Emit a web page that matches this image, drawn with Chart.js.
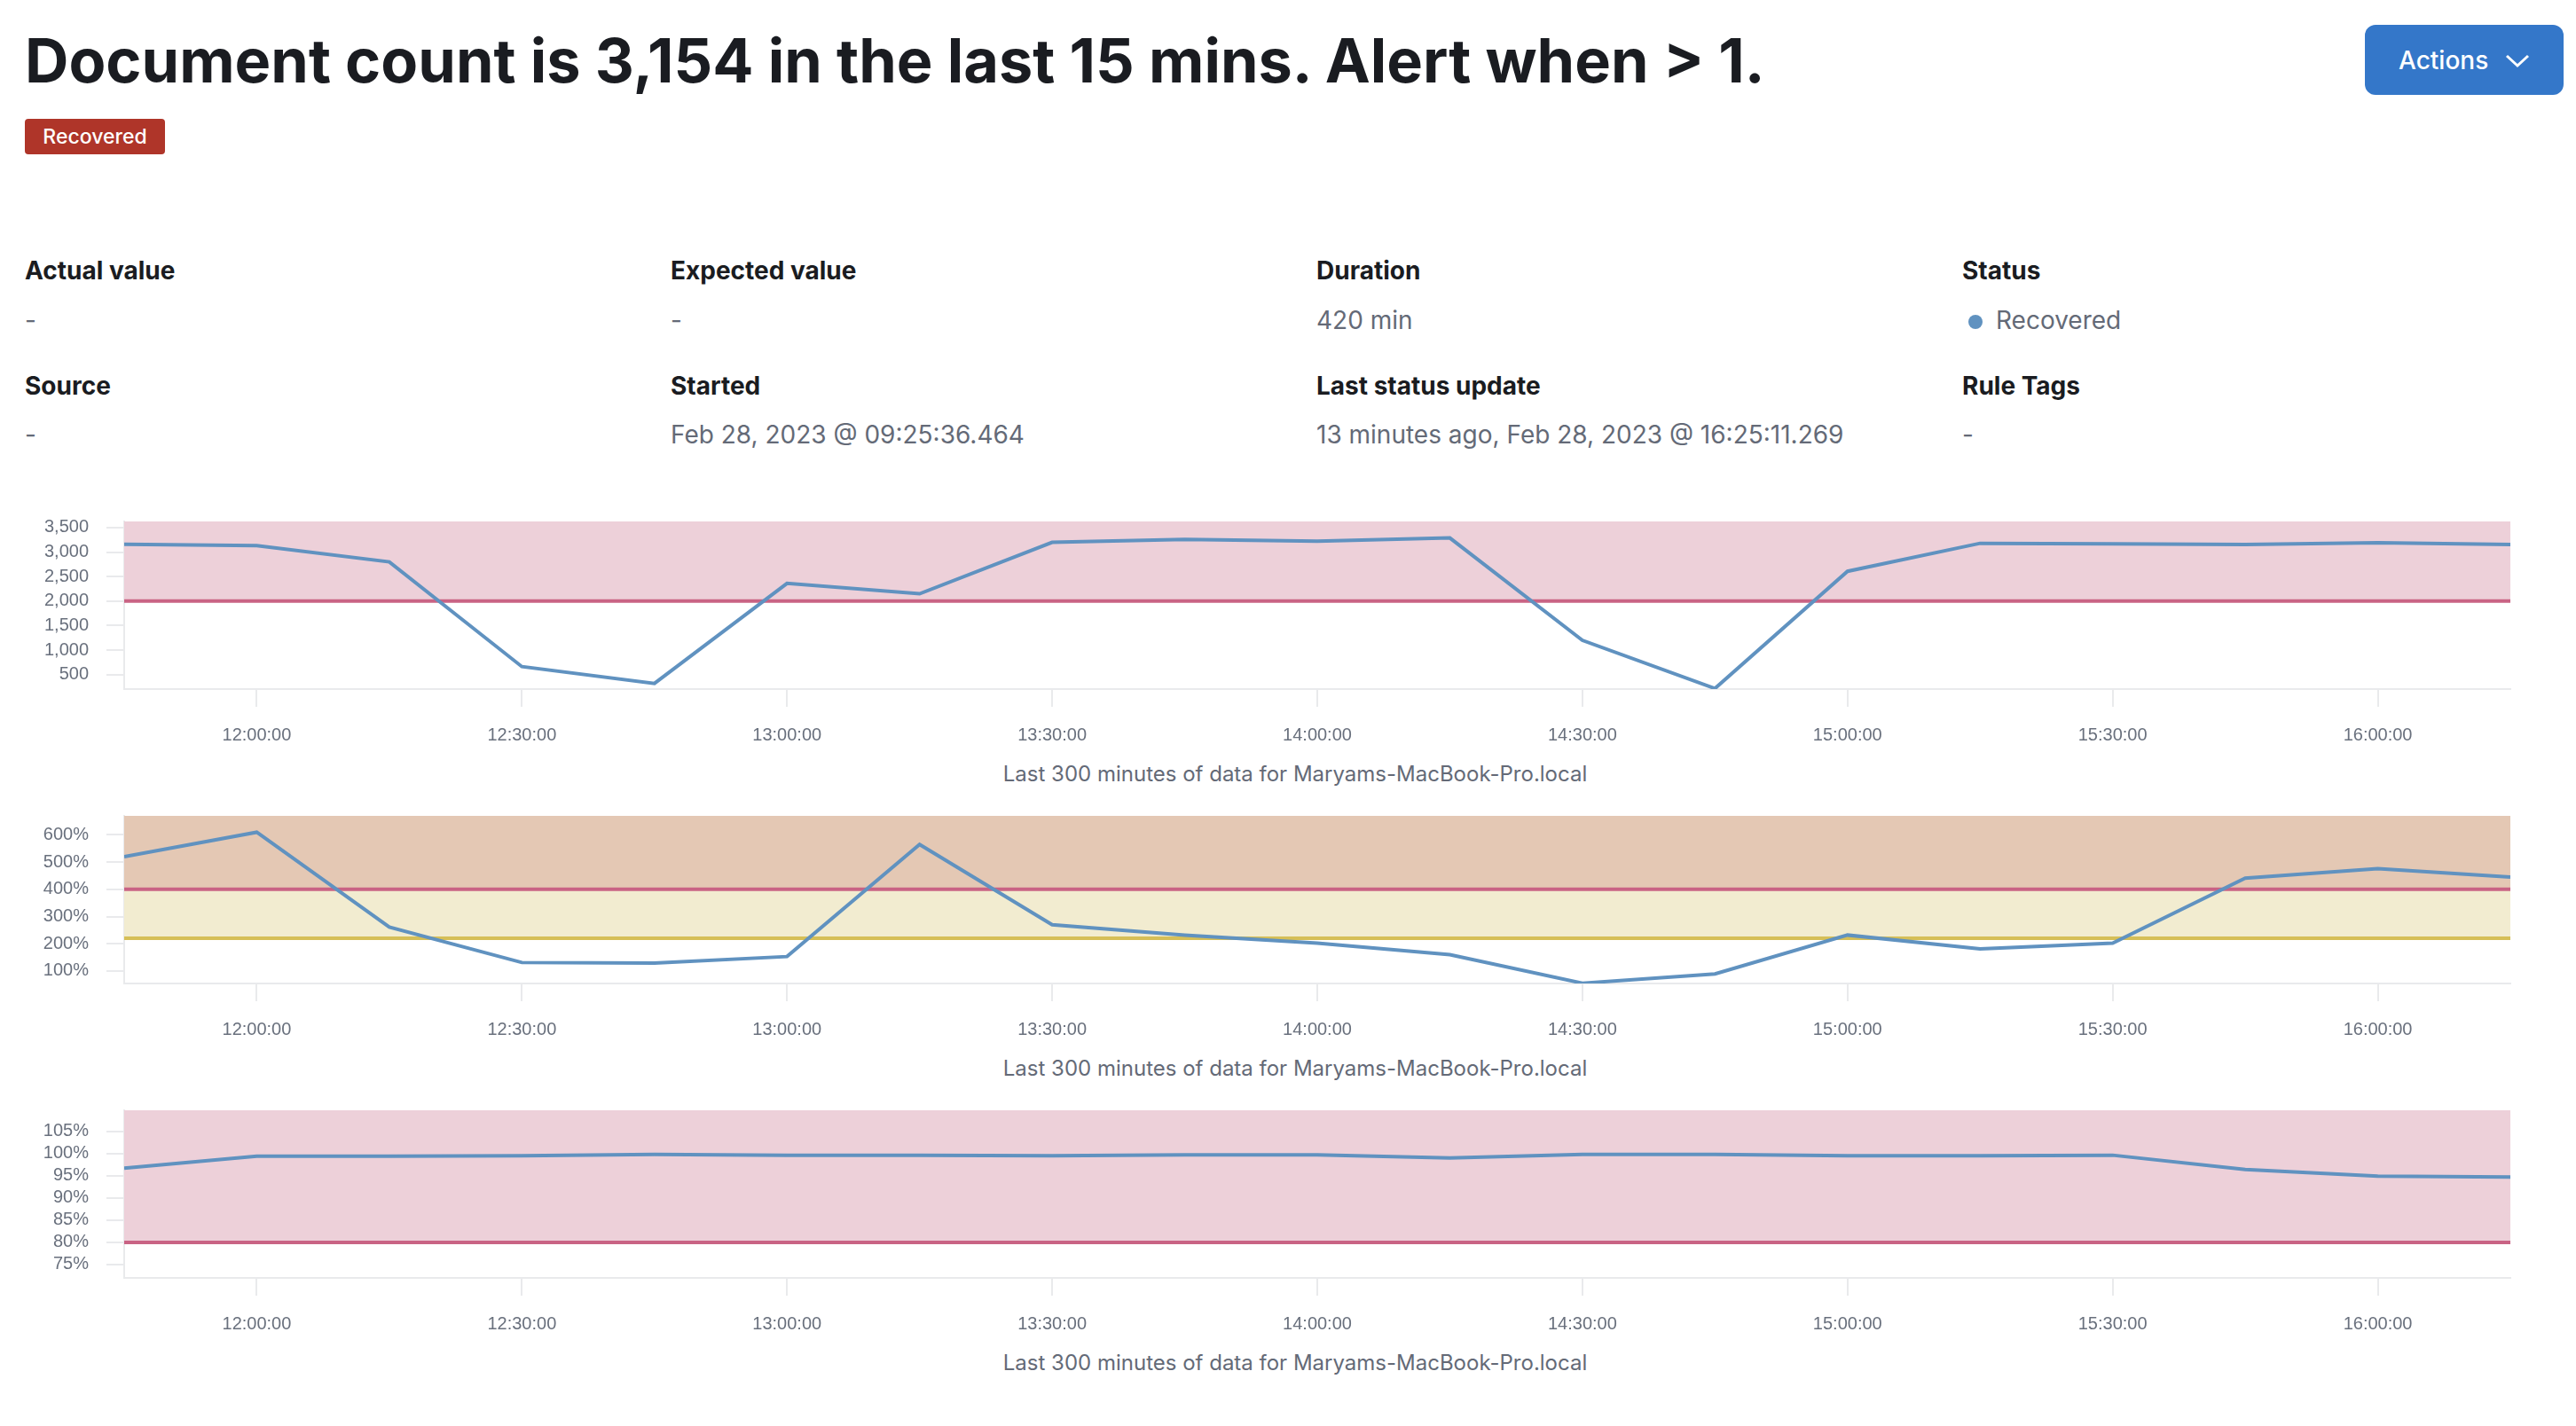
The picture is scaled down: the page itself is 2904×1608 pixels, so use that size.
<!DOCTYPE html>
<html>
<head>
<meta charset="utf-8">
<script src="https://cdn.jsdelivr.net/npm/chart.js@4.4.1/dist/chart.umd.min.js"></script>
<style>
  body { margin: 0; width: 2904px; height: 1608px; background: #fff; position: relative; overflow: hidden; font-family: Inter, "Noto Sans", sans-serif; }
  .t { position: absolute; white-space: nowrap; line-height: 1; }
  .title { left: 28px; top: 34px; font-size: 68.4px; font-weight: 700; color: #1a1c21; }
  .badge { left: 28px; top: 134px; width: 158px; height: 40px; background: #af3529; border-radius: 4px; color: #fff; font-size: 23px; font-weight: 500; display: flex; align-items: center; justify-content: center; }
  .btn { left: 2666px; top: 28px; width: 224px; height: 79px; background: #3477c9; border-radius: 12px; color: #fff; font-size: 28px; font-weight: 500; }
  .btn span { position: absolute; left: 38px; top: 26px; }
  .btn svg { position: absolute; left: 158px; top: 33px; }
  .lbl { font-size: 28px; font-weight: 700; color: #1a1c21; }
  .val { font-size: 28px; color: #646a77; }
  .dot { position: absolute; width: 16px; height: 16px; border-radius: 50%; background: #6092c0; }
  .chartbox { position: absolute; left: 0; width: 2904px; height: 294px; }
  .cap { left: 0; width: 2920px; text-align: center; font-size: 24px; color: #646a77; }
</style>
</head>
<body>
<div class="t title">Document count is 3,154 in the last 15 mins. Alert when &gt; 1.</div>
<div class="t badge">Recovered</div>
<div class="t btn"><span>Actions</span><svg width="28" height="16" viewBox="0 0 28 16"><polyline points="2,2 14,13 26,2" fill="none" stroke="#fff" stroke-width="3"/></svg></div>

<div class="t lbl" style="left:28px;top:291px">Actual value</div>
<div class="t val" style="left:28px;top:347px">-</div>
<div class="t lbl" style="left:756px;top:291px">Expected value</div>
<div class="t val" style="left:756px;top:347px">-</div>
<div class="t lbl" style="left:1484px;top:291px">Duration</div>
<div class="t val" style="left:1484px;top:347px">420 min</div>
<div class="t lbl" style="left:2212px;top:291px">Status</div>
<div class="dot" style="left:2219px;top:355px"></div>
<div class="t val" style="left:2250px;top:347px">Recovered</div>

<div class="t lbl" style="left:28px;top:421px">Source</div>
<div class="t val" style="left:28px;top:476px">-</div>
<div class="t lbl" style="left:756px;top:421px">Started</div>
<div class="t val" style="left:756px;top:476px">Feb 28, 2023 @ 09:25:36.464</div>
<div class="t lbl" style="left:1484px;top:421px">Last status update</div>
<div class="t val" style="left:1484px;top:476px">13 minutes ago, Feb 28, 2023 @ 16:25:11.269</div>
<div class="t lbl" style="left:2212px;top:421px">Rule Tags</div>
<div class="t val" style="left:2212px;top:476px">-</div>

<div class="chartbox" style="top:556px"><canvas id="c1"></canvas></div>
<div class="t cap" style="top:861px">Last 300 minutes of data for Maryams-MacBook-Pro.local</div>
<div class="chartbox" style="top:888px"><canvas id="c2"></canvas></div>
<div class="t cap" style="top:1193px">Last 300 minutes of data for Maryams-MacBook-Pro.local</div>
<div class="chartbox" style="top:1220px"><canvas id="c3"></canvas></div>
<div class="t cap" style="top:1525px">Last 300 minutes of data for Maryams-MacBook-Pro.local</div>

<script>
// 15 minute buckets, 11:45 -> 16:15
const timeLabels = ['11:45', '12:00', '12:15', '12:30', '12:45', '13:00', '13:15', '13:30', '13:45', '14:00',
                    '14:15', '14:30', '14:45', '15:00', '15:15', '15:30', '15:45', '16:00', '16:15'];
const xTickLabels = ['12:00:00', '12:30:00', '13:00:00', '13:30:00', '14:00:00', '14:30:00', '15:00:00', '15:30:00', '16:00:00'];

// document count
const docCount = [3162, 3133, 2800, 663, 320, 2362, 2150, 3200, 3260, 3225, 3290, 1200, 217, 2609, 3180, 3169, 3157, 3193, 3154];
const docTicks = [500, 1000, 1500, 2000, 2500, 3000, 3500];
const docThreshold = 2000;

// second chart, percent
const ratioPct = [520, 610, 261, 131, 129, 153, 565, 270, 232, 202, 160, 55, 89, 232, 181, 202, 441, 476, 445];
const ratioTicks = [100, 200, 300, 400, 500, 600];
const ratioWarn = 220;
const ratioCrit = 400;

// third chart, percent
const uptimePct = [96.7, 99.4, 99.4, 99.5, 99.8, 99.6, 99.6, 99.5, 99.7, 99.7, 99.0, 99.8, 99.8, 99.5, 99.5, 99.6, 96.4, 94.9, 94.7];
const uptimeTicks = [75, 80, 85, 90, 95, 100, 105];
const uptimeThreshold = 80;

const toMin = s => { const p = s.split(':').map(Number); return p[0] * 60 + p[1]; };
const xs = timeLabels.map(toMin);

const axisGray = '#e9eaec';
const tickFont = { family: 'Liberation Sans, Arial, sans-serif', size: 20 };

// lines: [{value, line, fill, to}] ; to = dataset index to fill to, or 'end'
function buildChart(id, values, lines, yMin, yMax, yTicks, fmt) {
  const datasets = [{
    data: xs.map((x, i) => ({ x: x, y: values[i] })),
    borderColor: '#6092c0', borderWidth: 4, pointRadius: 0, fill: false, order: 0
  }];
  lines.forEach((th, k) => {
    datasets.push({
      data: xs.map(x => ({ x: x, y: th.value })),
      borderColor: th.line, backgroundColor: th.fill,
      borderWidth: 4, pointRadius: 0, fill: th.to, order: lines.length - k
    });
  });
  return new Chart(document.getElementById(id), {
    type: 'line',
    data: { datasets: datasets },
    options: {
      animation: false,
      responsive: true,
      maintainAspectRatio: false,
      devicePixelRatio: 1,
      layout: { padding: { top: 28, right: 74, left: 0, bottom: 0 } },
      plugins: { legend: { display: false }, tooltip: { enabled: false } },
      elements: { line: { tension: 0 } },
      scales: {
        x: {
          type: 'linear', min: xs[0], max: xs[xs.length - 1],
          afterBuildTicks: s => { s.ticks = xTickLabels.map(l => ({ value: toMin(l) })); },
          afterFit: s => { s.height = 73; },
          ticks: { callback: (v, i) => xTickLabels[i], font: tickFont, color: '#69707d', padding: 20, maxRotation: 0, autoSkip: false },
          grid: { drawOnChartArea: false, drawTicks: true, tickLength: 20, color: axisGray, lineWidth: 2 },
          border: { color: axisGray, width: 2 }
        },
        y: {
          min: yMin, max: yMax,
          afterBuildTicks: s => { s.ticks = yTicks.map(v => ({ value: v })); },
          afterFit: s => { s.width = 140; },
          ticks: { callback: v => fmt(v), font: tickFont, color: '#69707d', padding: 20 },
          grid: { drawOnChartArea: false, drawTicks: true, tickLength: 20, color: axisGray, lineWidth: 2 },
          border: { color: axisGray, width: 2 }
        }
      }
    }
  });
}

const pct = v => v + '%';
buildChart('c1', docCount,
  [{ value: docThreshold, line: '#c96384', fill: 'rgb(237,208,217)', to: 'end' }],
  205, 3626, docTicks, v => v.toLocaleString('en-US'));
buildChart('c2', ratioPct,
  [{ value: ratioWarn, line: '#d6bf57', fill: 'rgb(242,236,208)', to: 2 },
   { value: ratioCrit, line: '#c96384', fill: 'rgb(228,200,180)', to: 'end' }],
  54, 670, ratioTicks, pct);
buildChart('c3', uptimePct,
  [{ value: uptimeThreshold, line: '#c96384', fill: 'rgb(237,208,217)', to: 'end' }],
  72, 109.7, uptimeTicks, pct);
</script>
</body>
</html>
